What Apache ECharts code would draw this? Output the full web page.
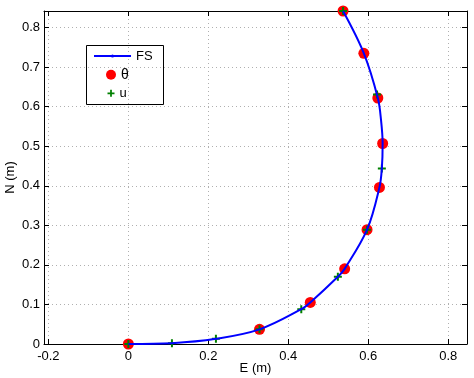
<!DOCTYPE html>
<html>
<head>
<meta charset="utf-8">
<script src="https://cdn.jsdelivr.net/npm/echarts@6/dist/echarts.min.js"></script>
<style>
  html, body { margin: 0; padding: 0; background: #fff; }
  #chart { width: 474px; height: 378px; }
</style>
</head>
<body>
<div id="chart"></div>
<script>
// curve points (E, N), in order along the path
const fsE = [0, 0.109, 0.219, 0.328, 0.4325, 0.455, 0.524, 0.541, 0.597, 0.628, 0.634, 0.636, 0.632, 0.624, 0.589, 0.537];
const fsN = [0, 0.002, 0.013, 0.037, 0.088, 0.105, 0.170, 0.19, 0.289, 0.396, 0.444, 0.507, 0.566, 0.622, 0.735, 0.842];

// theta markers
const thetaE = [0, 0.328, 0.455, 0.541, 0.597, 0.628, 0.636, 0.624, 0.589, 0.537];
const thetaN = [0, 0.037, 0.105, 0.19, 0.289, 0.396, 0.507, 0.622, 0.735, 0.842];

// u markers
const uE = [0, 0.109, 0.219, 0.328, 0.4325, 0.524, 0.597, 0.634, 0.622, 0.537];
const uN = [0, 0.002, 0.013, 0.037, 0.088, 0.170, 0.289, 0.444, 0.631, 0.842];

const xTicks = [-0.2, 0, 0.2, 0.4, 0.6, 0.8];
const yTicks = [0, 0.1, 0.2, 0.3, 0.4, 0.5, 0.6, 0.7, 0.8];

const zip = (a, b) => a.map((v, i) => [v, b[i]]);

const FONT = 'Liberation Sans, Arial, sans-serif';
const PLUS = 'path://M3,0h2v3h3v2h-3v3h-2v-3h-3v-2h3z';

var chart = echarts.init(document.getElementById('chart'));

const gridLine = {show: true, lineStyle: {color: '#b0b0b0', type: [1, 3], width: 1}};
const blackLine = {show: true, onZero: false, lineStyle: {color: '#000', width: 1}};
const tick = {show: true, inside: true, length: 5, lineStyle: {color: '#000'}};

var option = {
    animation: false,
    backgroundColor: '#fff',
    grid: {left: 44, right: 7, top: 11, bottom: 34, outerBoundsMode: 'none', containLabel: false},
    xAxis: [{
        type: 'value', min: -0.211, max: 0.847,
        name: 'E (m)', nameLocation: 'middle', nameGap: 18, nameMoveOverlap: false,
        nameTextStyle: {fontFamily: FONT, fontSize: 13, color: '#000'},
        axisLine: blackLine,
        axisTick: Object.assign({customValues: xTicks}, tick),
        axisLabel: {customValues: xTicks, fontFamily: FONT, fontSize: 13, color: '#000', margin: 6},
        splitLine: gridLine
    }, {
        type: 'value', position: 'top', min: -0.211, max: 0.847,
        axisLine: blackLine,
        axisTick: Object.assign({customValues: xTicks}, tick),
        axisLabel: {show: false},
        splitLine: {show: false}
    }],
    yAxis: [{
        type: 'value', min: 0, max: 0.842,
        name: 'N (m)', nameLocation: 'middle', nameGap: 27, nameRotate: 90, nameMoveOverlap: false,
        nameTextStyle: {fontFamily: FONT, fontSize: 13, color: '#000'},
        axisLine: blackLine,
        axisTick: Object.assign({customValues: yTicks}, tick),
        axisLabel: {customValues: yTicks, fontFamily: FONT, fontSize: 13, color: '#000', margin: 4},
        splitLine: gridLine
    }, {
        type: 'value', position: 'right', min: 0, max: 0.842,
        axisLine: blackLine,
        axisTick: Object.assign({customValues: yTicks}, tick),
        axisLabel: {show: false},
        splitLine: {show: false}
    }],
    legend: [{
        data: ['FS'], left: 93, top: 49, padding: 0,
        itemWidth: 37, itemHeight: 4, itemGap: 0, textGap: 4,
        textStyle: {fontFamily: FONT, fontSize: 13, color: '#000', lineHeight: 14}
    }, {
        data: [{name: 'θ', icon: 'circle'}], left: 106, top: 67.8, padding: 0,
        itemWidth: 10, itemHeight: 10, textGap: 18,
        textStyle: {fontFamily: FONT, fontSize: 14, color: '#000', lineHeight: 14}
    }, {
        data: ['u'], left: 107.5, top: 86.3, padding: 0,
        itemWidth: 7, itemHeight: 7, textGap: 19.5,
        textStyle: {fontFamily: FONT, fontSize: 13, color: '#000', lineHeight: 14}
    }],
    graphic: [{
        type: 'rect', left: 86, top: 45, z: 0,
        shape: {width: 77, height: 59},
        style: {fill: '#fff', stroke: '#000', lineWidth: 1}
    }],
    series: [{
        name: 'FS', type: 'line', data: zip(fsE, fsN),
        smooth: 0.35, symbol: 'none',
        lineStyle: {color: '#0000ff', width: 2},
        itemStyle: {color: '#0000ff'}
    }, {
        name: 'θ', type: 'scatter', data: zip(thetaE, thetaN),
        symbol: 'circle', symbolSize: 11,
        itemStyle: {color: '#ff0000', opacity: 1}
    }, {
        name: 'u', type: 'scatter', data: zip(uE, uN),
        symbol: PLUS, symbolSize: 8,
        itemStyle: {color: '#008000', opacity: 1}
    }]
};

option && chart.setOption(option);
</script>
</body>
</html>
